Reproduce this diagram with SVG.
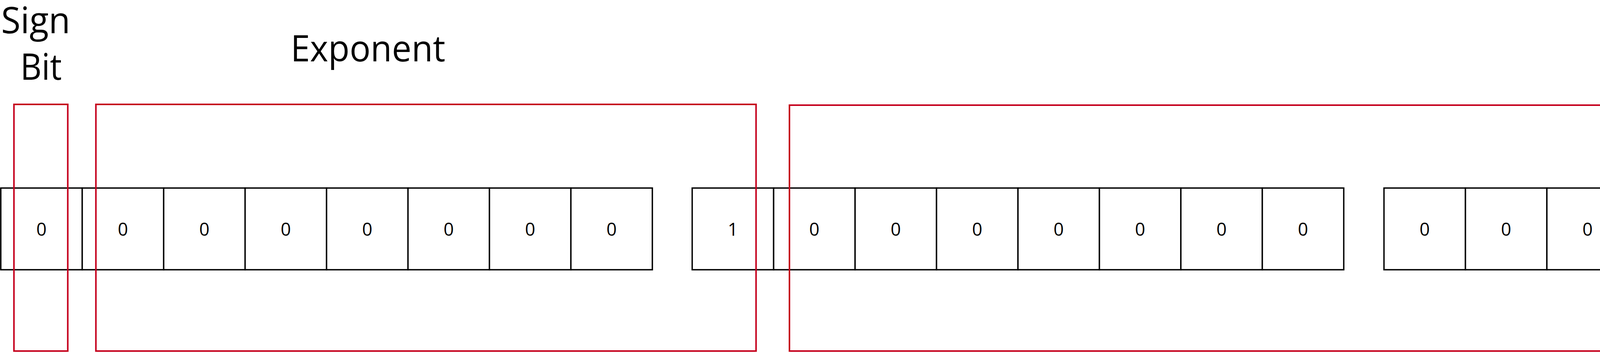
<svg xmlns="http://www.w3.org/2000/svg" width="6983" height="903" viewBox="0 0 6983 903">
<style>
.cell{fill:#fff;stroke:#000;stroke-width:3.5}
.bit{font-family:"Open Sans","Noto Sans","Liberation Sans",sans-serif;font-size:46px;fill:#000;text-anchor:middle}
.title{font-family:"Open Sans","Noto Sans","Liberation Sans",sans-serif;font-size:94px;fill:#000}
.field{fill:none;stroke:#c5001c;stroke-width:4}
</style>
<rect x="0" y="0" width="6983" height="903" fill="#fff"/>
<g id="labels">
<text class="title" x="3" y="85" textLength="177" lengthAdjust="spacingAndGlyphs">Sign</text>
<text class="title" x="52" y="204" textLength="106" lengthAdjust="spacingAndGlyphs">Bit</text>
<text class="title" x="744" y="157" textLength="396" lengthAdjust="spacingAndGlyphs">Exponent</text>
<text class="title" x="4197" y="157" textLength="360" lengthAdjust="spacingAndGlyphs">Mantissa</text>
</g>
<g id="byte1">
<g id="bit31"><rect class="cell" x="2" y="481" width="208.5" height="209"/><text class="bit" x="106.25" y="603">0</text></g>
<g id="bit30"><rect class="cell" x="210.5" y="481" width="208.5" height="209"/><text class="bit" x="314.75" y="603">0</text></g>
<g id="bit29"><rect class="cell" x="419" y="481" width="208.5" height="209"/><text class="bit" x="523.25" y="603">0</text></g>
<g id="bit28"><rect class="cell" x="627.5" y="481" width="208.5" height="209"/><text class="bit" x="731.75" y="603">0</text></g>
<g id="bit27"><rect class="cell" x="836" y="481" width="208.5" height="209"/><text class="bit" x="940.25" y="603">0</text></g>
<g id="bit26"><rect class="cell" x="1044.5" y="481" width="208.5" height="209"/><text class="bit" x="1148.75" y="603">0</text></g>
<g id="bit25"><rect class="cell" x="1253" y="481" width="208.5" height="209"/><text class="bit" x="1357.25" y="603">0</text></g>
<g id="bit24"><rect class="cell" x="1461.5" y="481" width="208.5" height="209"/><text class="bit" x="1565.75" y="603">0</text></g>
</g>
<g id="byte2">
<g id="bit23"><rect class="cell" x="1772" y="481" width="208.5" height="209"/><text class="bit" x="1876.25" y="603">1</text></g>
<g id="bit22"><rect class="cell" x="1980.5" y="481" width="208.5" height="209"/><text class="bit" x="2084.75" y="603">0</text></g>
<g id="bit21"><rect class="cell" x="2189" y="481" width="208.5" height="209"/><text class="bit" x="2293.25" y="603">0</text></g>
<g id="bit20"><rect class="cell" x="2397.5" y="481" width="208.5" height="209"/><text class="bit" x="2501.75" y="603">0</text></g>
<g id="bit19"><rect class="cell" x="2606" y="481" width="208.5" height="209"/><text class="bit" x="2710.25" y="603">0</text></g>
<g id="bit18"><rect class="cell" x="2814.5" y="481" width="208.5" height="209"/><text class="bit" x="2918.75" y="603">0</text></g>
<g id="bit17"><rect class="cell" x="3023" y="481" width="208.5" height="209"/><text class="bit" x="3127.25" y="603">0</text></g>
<g id="bit16"><rect class="cell" x="3231.5" y="481" width="208.5" height="209"/><text class="bit" x="3335.75" y="603">0</text></g>
</g>
<g id="byte3">
<g id="bit15"><rect class="cell" x="3543" y="481" width="208.5" height="209"/><text class="bit" x="3647.25" y="603">0</text></g>
<g id="bit14"><rect class="cell" x="3751.5" y="481" width="208.5" height="209"/><text class="bit" x="3855.75" y="603">0</text></g>
<g id="bit13"><rect class="cell" x="3960" y="481" width="208.5" height="209"/><text class="bit" x="4064.25" y="603">0</text></g>
<g id="bit12"><rect class="cell" x="4168.5" y="481" width="208.5" height="209"/><text class="bit" x="4272.75" y="603">0</text></g>
<g id="bit11"><rect class="cell" x="4377" y="481" width="208.5" height="209"/><text class="bit" x="4481.25" y="603">0</text></g>
<g id="bit10"><rect class="cell" x="4585.5" y="481" width="208.5" height="209"/><text class="bit" x="4689.75" y="603">0</text></g>
<g id="bit9"><rect class="cell" x="4794" y="481" width="208.5" height="209"/><text class="bit" x="4898.25" y="603">0</text></g>
<g id="bit8"><rect class="cell" x="5002.5" y="481" width="208.5" height="209"/><text class="bit" x="5106.75" y="603">0</text></g>
</g>
<g id="byte4">
<g id="bit7"><rect class="cell" x="5314" y="481" width="208.5" height="209"/><text class="bit" x="5418.25" y="603">0</text></g>
<g id="bit6"><rect class="cell" x="5522.5" y="481" width="208.5" height="209"/><text class="bit" x="5626.75" y="603">0</text></g>
<g id="bit5"><rect class="cell" x="5731" y="481" width="208.5" height="209"/><text class="bit" x="5835.25" y="603">0</text></g>
<g id="bit4"><rect class="cell" x="5939.5" y="481" width="208.5" height="209"/><text class="bit" x="6043.75" y="603">0</text></g>
<g id="bit3"><rect class="cell" x="6148" y="481" width="208.5" height="209"/><text class="bit" x="6252.25" y="603">0</text></g>
<g id="bit2"><rect class="cell" x="6356.5" y="481" width="208.5" height="209"/><text class="bit" x="6460.75" y="603">0</text></g>
<g id="bit1"><rect class="cell" x="6565" y="481" width="208.5" height="209"/><text class="bit" x="6669.25" y="603">0</text></g>
<g id="bit0"><rect class="cell" x="6773.5" y="481" width="208.5" height="209"/><text class="bit" x="6877.75" y="603">1</text></g>
</g>
<g id="fields">
<rect id="sign-field" class="field" x="35.7" y="267" width="137.8" height="631"/>
<rect id="exponent-field" class="field" x="245.5" y="267" width="1690" height="631"/>
<rect id="mantissa-field" class="field" x="2021" y="269" width="4909" height="629"/>
</g>
</svg>
